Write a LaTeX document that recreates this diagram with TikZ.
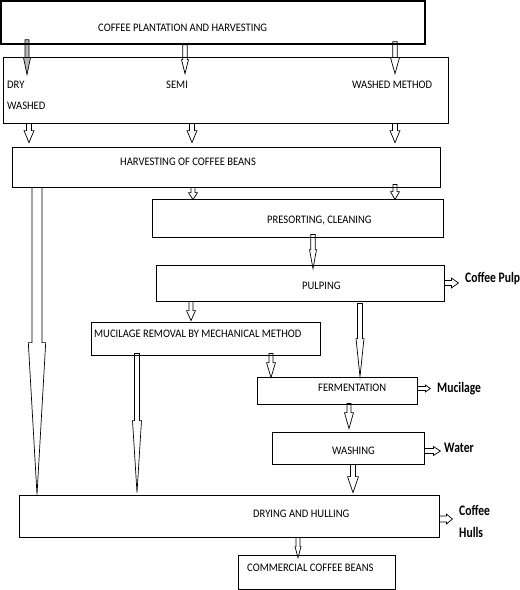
\documentclass[tikz,border=0pt]{standalone}
\usepackage{fontspec}
\setmainfont{Carlito}[FakeStretch=0.92]
\newfontfamily\sidefont{Carlito}[FakeStretch=0.8]
\usetikzlibrary{fit,calc,backgrounds}

% hollow block arrows: start, tip, shaft half width, head half width, head length
\newcommand\fatdown[6][white]{%
  \draw[fat,fill=#1] let \p1=#2, \p2=#3 in
    (\x1-#4,\y1) -- (\x1-#4,\y2+#6) -- (\x1-#5,\y2+#6) -- (\x1,\y2)
    -- (\x1+#5,\y2+#6) -- (\x1+#4,\y2+#6) -- (\x1+#4,\y1) -- cycle;}
\newcommand\fatright[5]{%
  \draw[fat,fill=white] let \p1=#1, \p2=#2 in
    (\x1,\y1+#3) -- (\x2-#5,\y1+#3) -- (\x2-#5,\y1+#4) -- (\x2,\y1)
    -- (\x2-#5,\y1-#4) -- (\x2-#5,\y1-#3) -- (\x1,\y1-#3) -- cycle;}

\begin{document}
\begin{tikzpicture}[x=1pt,y=-1pt,
  box/.style={draw,line width=0.8pt,inner sep=0pt},
  txt/.style={anchor=west,inner sep=0pt,font=\fontsize{11.5}{13}\selectfont},
  side/.style={anchor=west,inner sep=0pt,font=\sidefont\bfseries\fontsize{14.5}{22}\selectfont},
  fat/.style={draw,line width=0.7pt}]
  \useasboundingbox (0,0) rectangle (520,590);

  % boxes
  \node[box,line width=1.5pt,fit={(0.75,1) (425,44)}] (plant) {};
  \foreach \n/\xa/\ya/\xb/\yb in {methods/3/57/448/123, harvest/12/147/440/187,
      presort/152/199/443/237, pulp/156/265/444/301, mucil/91/322/320/355,
      ferment/257/377/417/404, wash/272/432/424/464, dry/19/495/439/537,
      comm/238/555/395/589}
    \node[box,fit={(\xa,\ya) (\xb,\yb)}] (\n) {};

  % texts
  \node[txt] (plantT) at (98,28) {COFFEE PLANTATION AND HARVESTING};
  \node[txt] (dryT) at (7,85) {DRY};
  \node[txt] (dryT2) at (7,106) {WASHED};
  \node[txt] (semiT) at (166,85) {SEMI};
  \node[txt] (washedT) at (352,85) {WASHED METHOD};
  \node[txt] (harvestT) at (120,162) {HARVESTING OF COFFEE BEANS};
  \node[txt] (presortT) at (267,220) {PRESORTING, CLEANING};
  \node[txt] (pulpT) at (302,286) {PULPING};
  \node[txt] (mucilT) at (94,334) {MUCILAGE REMOVAL BY MECHANICAL METHOD};
  \node[txt] (fermentT) at (318,388) {FERMENTATION};
  \node[txt] (washT) at (332,451) {WASHING};
  \node[txt] (dryT3) at (253,514) {DRYING AND HULLING};
  \node[txt] (commT) at (247,568) {COMMERCIAL COFFEE BEANS};

  \node[side] (pulpL) at (465,279) {Coffee Pulp};
  \node[side] (mucilL) at (437,389) {Mucilage};
  \node[side] (waterL) at (444,448) {Water};
  \node[side,align=left] (hullL) at (459,521) {Coffee\\Hulls};

  \begin{scope}[on background layer]
    \fatdown[gray!55]{([yshift=5pt]27,0 |- plant.south)}{([yshift=-18pt]27,0 |- methods.north)}{2pt}{3.5pt}{17pt}
    \fatdown{(185,0 |- plant.south)}{([yshift=-17pt]185,0 |- methods.north)}{2.2pt}{3.5pt}{14pt}
    \fatdown{([yshift=3pt]395,0 |- plant.south)}{([yshift=-17pt]395,0 |- methods.north)}{2.2pt}{4.5pt}{16pt}
    \foreach \xa in {29,192,395}
      \fatdown{(\xa,0 |- methods.south)}{([yshift=4pt]\xa,0 |- harvest.north)}{2.5pt}{5pt}{12pt};
    \fatdown{(193,0 |- harvest.south)}{([yshift=-1pt]193,0 |- presort.north)}{2pt}{4.5pt}{7pt}
    \fatdown{([yshift=3pt]395,0 |- harvest.south)}{([yshift=-1pt]395,0 |- presort.north)}{2pt}{4.5pt}{8pt}
    \fatdown{([yshift=3pt]313,0 |- presort.south)}{([yshift=-4pt]313,0 |- pulp.north)}{2.3pt}{3.5pt}{19pt}
    \fatdown{(191,0 |- pulp.south)}{([yshift=1pt]191,0 |- mucil.north)}{2pt}{4.5pt}{10pt}
    \fatdown{([yshift=-2pt]360,0 |- pulp.south)}{(360,0 |- ferment.north)}{2.5pt}{4pt}{38pt}
    \fatdown{([yshift=2pt]271,0 |- mucil.south)}{([yshift=-1pt]271,0 |- ferment.north)}{2pt}{4.5pt}{15pt}
    \fatdown{([yshift=1pt]349,0 |- ferment.south)}{([yshift=3pt]349,0 |- wash.north)}{2pt}{4.5pt}{16pt}
    \fatdown{(353,0 |- wash.south)}{([yshift=2pt]353,0 |- dry.north)}{2.5pt}{5.5pt}{16pt}
    \fatdown{(298,0 |- dry.south)}{([yshift=-3pt]298,0 |- comm.north)}{2pt}{3pt}{11pt}
    % long ones down to drying
    \fatdown{(37,0 |- harvest.south)}{(37,0 |- dry.north)}{5pt}{8.7pt}{152pt}
    \fatdown{([yshift=2pt]137,0 |- mucil.south)}{([yshift=2pt]137,0 |- dry.north)}{2.5pt}{4.5pt}{72pt}
    % side outputs
    \fatright{(pulp.east)}{([xshift=14pt]pulp.east)}{2.5pt}{5pt}{7pt}
    \fatright{([yshift=2pt]ferment.east)}{([xshift=13pt,yshift=2pt]ferment.east)}{2pt}{3.5pt}{5pt}
    \fatright{([yshift=-3pt]wash.east)}{([xshift=16pt,yshift=-3pt]wash.east)}{2.5pt}{4.5pt}{7pt}
    \fatright{([yshift=-3pt]dry.east)}{([xshift=13pt,yshift=-3pt]dry.east)}{3pt}{5pt}{6pt}
  \end{scope}
\end{tikzpicture}
\end{document}
